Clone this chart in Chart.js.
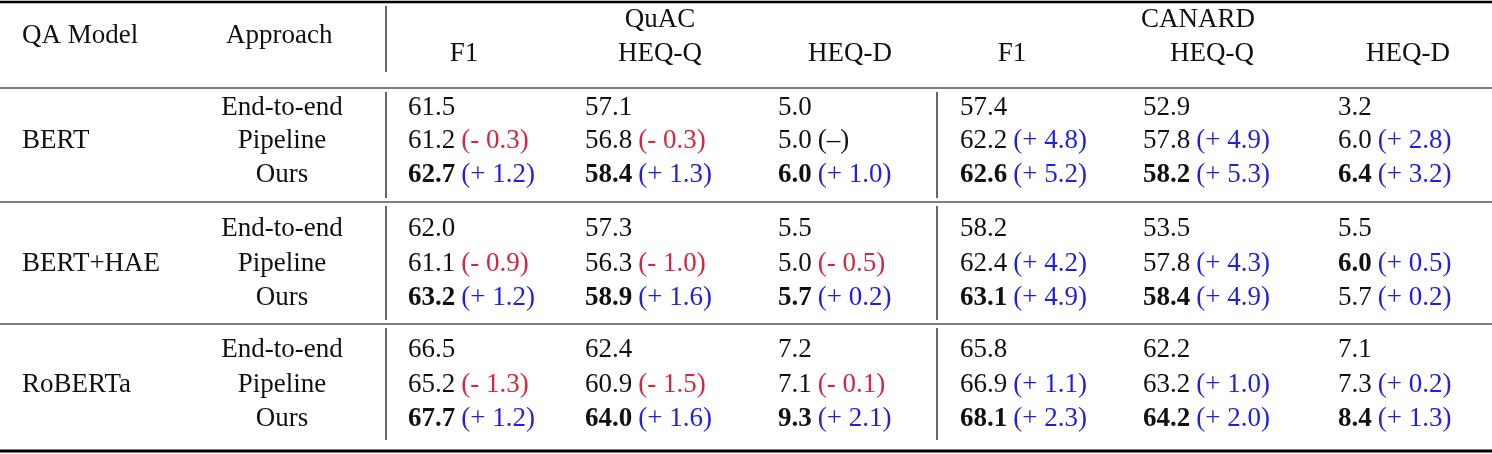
<!DOCTYPE html>
<html><head><meta charset="utf-8">
<script src="https://cdn.jsdelivr.net/npm/chart.js@4/dist/chart.umd.min.js"></script>
<style>html,body{margin:0;background:#fff}#wrap{width:1492px;height:454px}</style>
</head><body><div id="wrap"><canvas id="c"></canvas></div>
<script>
// table data
const MODELS = ["BERT","BERT+HAE","RoBERTa"];
const APPROACHES = ["End-to-end","Pipeline","Ours"];
const GROUPS = ["QuAC","CANARD"];
const METRICS = ["F1","HEQ-Q","HEQ-D","F1","HEQ-Q","HEQ-D"];
const VALUES = [
  ["61.5","57.1","5.0","57.4","52.9","3.2"],
  ["61.2","56.8","5.0","62.2","57.8","6.0"],
  ["62.7","58.4","6.0","62.6","58.2","6.4"],
  ["62.0","57.3","5.5","58.2","53.5","5.5"],
  ["61.1","56.3","5.0","62.4","57.8","6.0"],
  ["63.2","58.9","5.7","63.1","58.4","5.7"],
  ["66.5","62.4","7.2","65.8","62.2","7.1"],
  ["65.2","60.9","7.1","66.9","63.2","7.3"],
  ["67.7","64.0","9.3","68.1","64.2","8.4"]
];
const DELTAS = [
  [null,null,null,null,null,null],
  ["- 0.3","- 0.3","–","+ 4.8","+ 4.9","+ 2.8"],
  ["+ 1.2","+ 1.3","+ 1.0","+ 5.2","+ 5.3","+ 3.2"],
  [null,null,null,null,null,null],
  ["- 0.9","- 1.0","- 0.5","+ 4.2","+ 4.3","+ 0.5"],
  ["+ 1.2","+ 1.6","+ 0.2","+ 4.9","+ 4.9","+ 0.2"],
  [null,null,null,null,null,null],
  ["- 1.3","- 1.5","- 0.1","+ 1.1","+ 1.0","+ 0.2"],
  ["+ 1.2","+ 1.6","+ 2.1","+ 2.3","+ 2.0","+ 1.3"]
];
const BOLD = [
  [0,0,0,0,0,0],[0,0,0,0,0,0],[1,1,1,1,1,1],
  [0,0,0,0,0,0],[0,0,0,0,0,1],[1,1,1,1,1,0],
  [0,0,0,0,0,0],[0,0,0,0,0,0],[1,1,1,1,1,1]
];

// layout
const W=1492,H=454;
const COL_X=[408,585,778,960,1143,1338];
const HEAD_X=[464,660,850,1012,1212,1408];
const GROUP_X=[660,1198];
const ROW_Y=[108,141,175,229,264,298,350,385,419];
const FONT="'Liberation Serif', 'Times New Roman', serif";
const FS=27;
const RED="#d7263d", BLUE="#1f1fe0";

const tablePlugin={
  id:"table",
  afterDraw(chart){
    const c=chart.ctx, x=chart.scales.x, y=chart.scales.y;
    const px=v=>x.getPixelForValue(v), py=v=>y.getPixelForValue(v);
    c.save();
    c.textBaseline="middle";
    const txt=(s,X,Y,opt={})=>{
      c.font=(opt.bold?"bold ":"")+FS+"px "+FONT;
      c.fillStyle=opt.color||"#111";
      c.textAlign=opt.align||"left";
      c.fillText(s,px(X),py(Y));
      return c.measureText(s).width;
    };
    const hline=(Y,w)=>{c.lineWidth=w;c.strokeStyle="#000";c.beginPath();c.moveTo(px(0),py(Y));c.lineTo(px(W),py(Y));c.stroke();};
    const vline=(X,a,b)=>{c.lineWidth=1.2;c.strokeStyle="#000";c.beginPath();c.moveTo(px(X),py(a));c.lineTo(px(X),py(b));c.stroke();};
    hline(2,2.5); hline(88,1.2); hline(202,1.2); hline(324,1.2); hline(451,3);
    vline(386,6,72);
    [[92,198],[206,320],[328,440]].forEach(([a,b])=>{vline(386,a,b);vline(937,a,b);});
    txt("QA Model",22,36); txt("Approach",226,36);
    GROUPS.forEach((g,i)=>txt(g,GROUP_X[i],20,{align:"center"}));
    METRICS.forEach((m,i)=>txt(m,HEAD_X[i],54,{align:"center"}));
    MODELS.forEach((m,i)=>txt(m,22,ROW_Y[i*3+1]));
    ROW_Y.forEach((ry,r)=>{
      txt(APPROACHES[r%3],282,ry,{align:"center"});
      VALUES[r].forEach((v,ci)=>{
        const w=txt(v,COL_X[ci],ry,{bold:BOLD[r][ci]});
        const d=DELTAS[r][ci];
        if(d!==null){
          const col=d==="–"?"#111":(d[0]==="-"?RED:BLUE);
          txt("("+d+")",COL_X[ci]+w+6,ry,{color:col});
        }
      });
    });
    c.restore();
  }
};

new Chart(document.getElementById("c"),{
  type:"scatter",
  data:{datasets:[{data:[]}]},
  options:{
    responsive:true,maintainAspectRatio:false,animation:false,
    layout:{padding:0},
    plugins:{legend:{display:false},tooltip:{enabled:false}},
    scales:{
      x:{type:"linear",min:0,max:W,display:false},
      y:{type:"linear",min:0,max:H,reverse:true,display:false}
    }
  },
  plugins:[tablePlugin]
});
</script></body></html>
